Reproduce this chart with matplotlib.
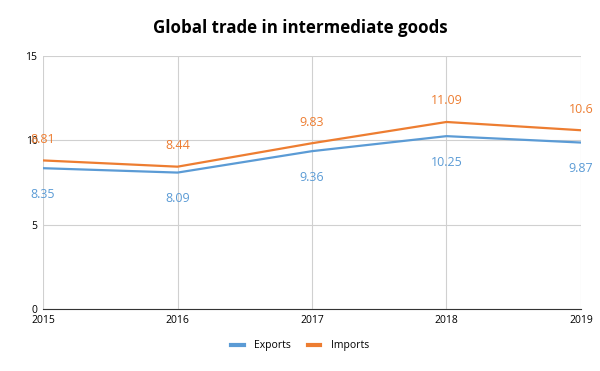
import matplotlib
matplotlib.use('Agg')
import matplotlib.pyplot as plt

plt.rcParams['font.family'] = ['Open Sans', 'DejaVu Sans']

years = [2015, 2016, 2017, 2018, 2019]
exports = [8.35, 8.09, 9.36, 10.25, 9.87]
imports = [8.81, 8.44, 9.83, 11.09, 10.6]
export_labels = ['8.35', '8.09', '9.36', '10.25', '9.87']
import_labels = ['8.81', '8.44', '9.83', '11.09', '10.6']

blue = '#5B9BD5'
orange = '#ED7D31'

fig = plt.figure(figsize=(6, 3.71), dpi=100)
ax = fig.add_axes([0.0717, 0.167, 0.8966, 0.682])

ax.plot(years, exports, color=blue, lw=1.6, label='Exports')
ax.plot(years, imports, color=orange, lw=1.6, label='Imports')

for x, y, t in zip(years, exports, export_labels):
    ax.annotate(t, (x, y), xytext=(0, -26), textcoords='offset pixels',
                ha='center', va='center', color=blue, fontsize=9)
for x, y, t in zip(years, imports, import_labels):
    ax.annotate(t, (x, y), xytext=(0, 21), textcoords='offset pixels',
                ha='center', va='center', color=orange, fontsize=9)

ax.set_xlim(2015, 2019)
ax.set_ylim(0, 15)
ax.set_xticks(years)
ax.set_yticks([0, 5, 10, 15])
ax.grid(True, color='#d0d0d0', lw=0.8)
ax.set_axisbelow(True)
for s in ['top', 'right', 'left']:
    ax.spines[s].set_visible(False)
ax.spines['bottom'].set_color('#333333')
ax.tick_params(length=0, labelsize=7.5, pad=4)

fig.text(0.5, 0.925, 'Global trade in intermediate goods', ha='center', va='center',
         fontsize=12.2, fontweight='bold')
leg = fig.legend(loc='center', bbox_to_anchor=(0.5, 0.068), ncol=2, frameon=False,
                 fontsize=7.5, handlelength=1.2, handletextpad=1.0, columnspacing=1.6)
for h in leg.get_lines():
    h.set_linewidth(3)

fig.savefig('out.png', dpi=100)
